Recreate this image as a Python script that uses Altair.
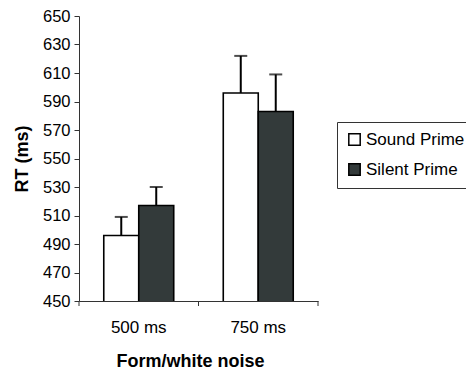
import altair as alt
import pandas as pd

conditions = ["500 ms", "500 ms", "750 ms", "750 ms"]
primes = ["Sound Prime", "Silent Prime", "Sound Prime", "Silent Prime"]
rt = [496, 517, 596, 583]
err_top = [509, 530, 622, 609]
y_ticks = [450, 470, 490, 510, 530, 550, 570, 590, 610, 630, 650]

df = pd.DataFrame({"cond": conditions, "prime": primes, "rt": rt, "top": err_top})

FONT = "Liberation Sans"
W, H = 239, 285
yscale = alt.Scale(domain=[450, 650], nice=False, zero=False)
yaxis = alt.Axis(title="RT (ms)", values=y_ticks, labelOverlap=False,
                 labelFont=FONT, labelFontSize=16.5, labelColor="black",
                 titleFont=FONT, titleFontSize=18, titleFontWeight="bold",
                 titleColor="black", titlePadding=11, grid=False,
                 domainColor="#333", tickColor="#333", tickSize=5,
                 labelPadding=4)
xaxis = alt.Axis(title="Form/white noise", labelAngle=0, ticks=False,
                 labelFontSize=17, labelFont=FONT, labelColor="black",
                 labelPadding=18, titleFont=FONT, titleFontSize=18,
                 titleFontWeight="bold", titlePadding=17, titleColor="black",
                 domainColor="#333", titleX=111, titleAnchor="middle")
xscale = alt.Scale(paddingInner=0, paddingOuter=0)
xoff = alt.XOffset("prime:N", sort=["Sound Prime", "Silent Prime"],
                   scale=alt.Scale(paddingInner=0, paddingOuter=0.708))

bars = alt.Chart(df).mark_bar(stroke="black", strokeWidth=1.6, clip=True).encode(
    x=alt.X("cond:N", scale=xscale, axis=xaxis),
    xOffset=xoff,
    y=alt.Y("rt:Q", scale=yscale, axis=yaxis),
    fill=alt.Fill("prime:N", sort=["Sound Prime", "Silent Prime"],
                  scale=alt.Scale(domain=["Sound Prime", "Silent Prime"],
                                  range=["white", "#333a3a"]),
                  legend=alt.Legend(title=None, orient="none", legendX=258, legendY=106,
                                    labelFont=FONT, labelFontSize=17, labelColor="black",
                                    symbolType="square", symbolSize=130,
                                    symbolStrokeColor="black", symbolStrokeWidth=1.5,
                                    strokeColor="#333", padding=9, rowPadding=11,
                                    labelOffset=3)),
)

rules = alt.Chart(df).mark_rule(color="black", strokeWidth=2).encode(
    x=alt.X("cond:N", scale=xscale, axis=xaxis), xOffset=xoff,
    y=alt.Y("rt:Q", scale=yscale, axis=yaxis), y2="top:Q")

caps = alt.Chart(df).mark_tick(color="black", thickness=2, size=13).encode(
    x=alt.X("cond:N", scale=xscale, axis=xaxis), xOffset=xoff,
    y=alt.Y("top:Q", scale=yscale, axis=yaxis))

tick_df = pd.DataFrame({"px": [0, W / 2, W]})
xticks = alt.Chart(tick_df).mark_rule(color="#333", strokeWidth=1).encode(
    x=alt.X("px:Q", scale=None), y=alt.value(H), y2=alt.value(H + 5))

chart = alt.layer(bars, rules, caps, xticks).properties(
    width=W, height=H,
    autosize=alt.AutoSizeParams(type="none"),
    padding={"left": 71, "top": 8, "right": 148, "bottom": 76},
).configure_view(stroke=None).configure_axis(domainWidth=1)

chart.save("out.html", embed_options={"renderer": "svg", "actions": False})
